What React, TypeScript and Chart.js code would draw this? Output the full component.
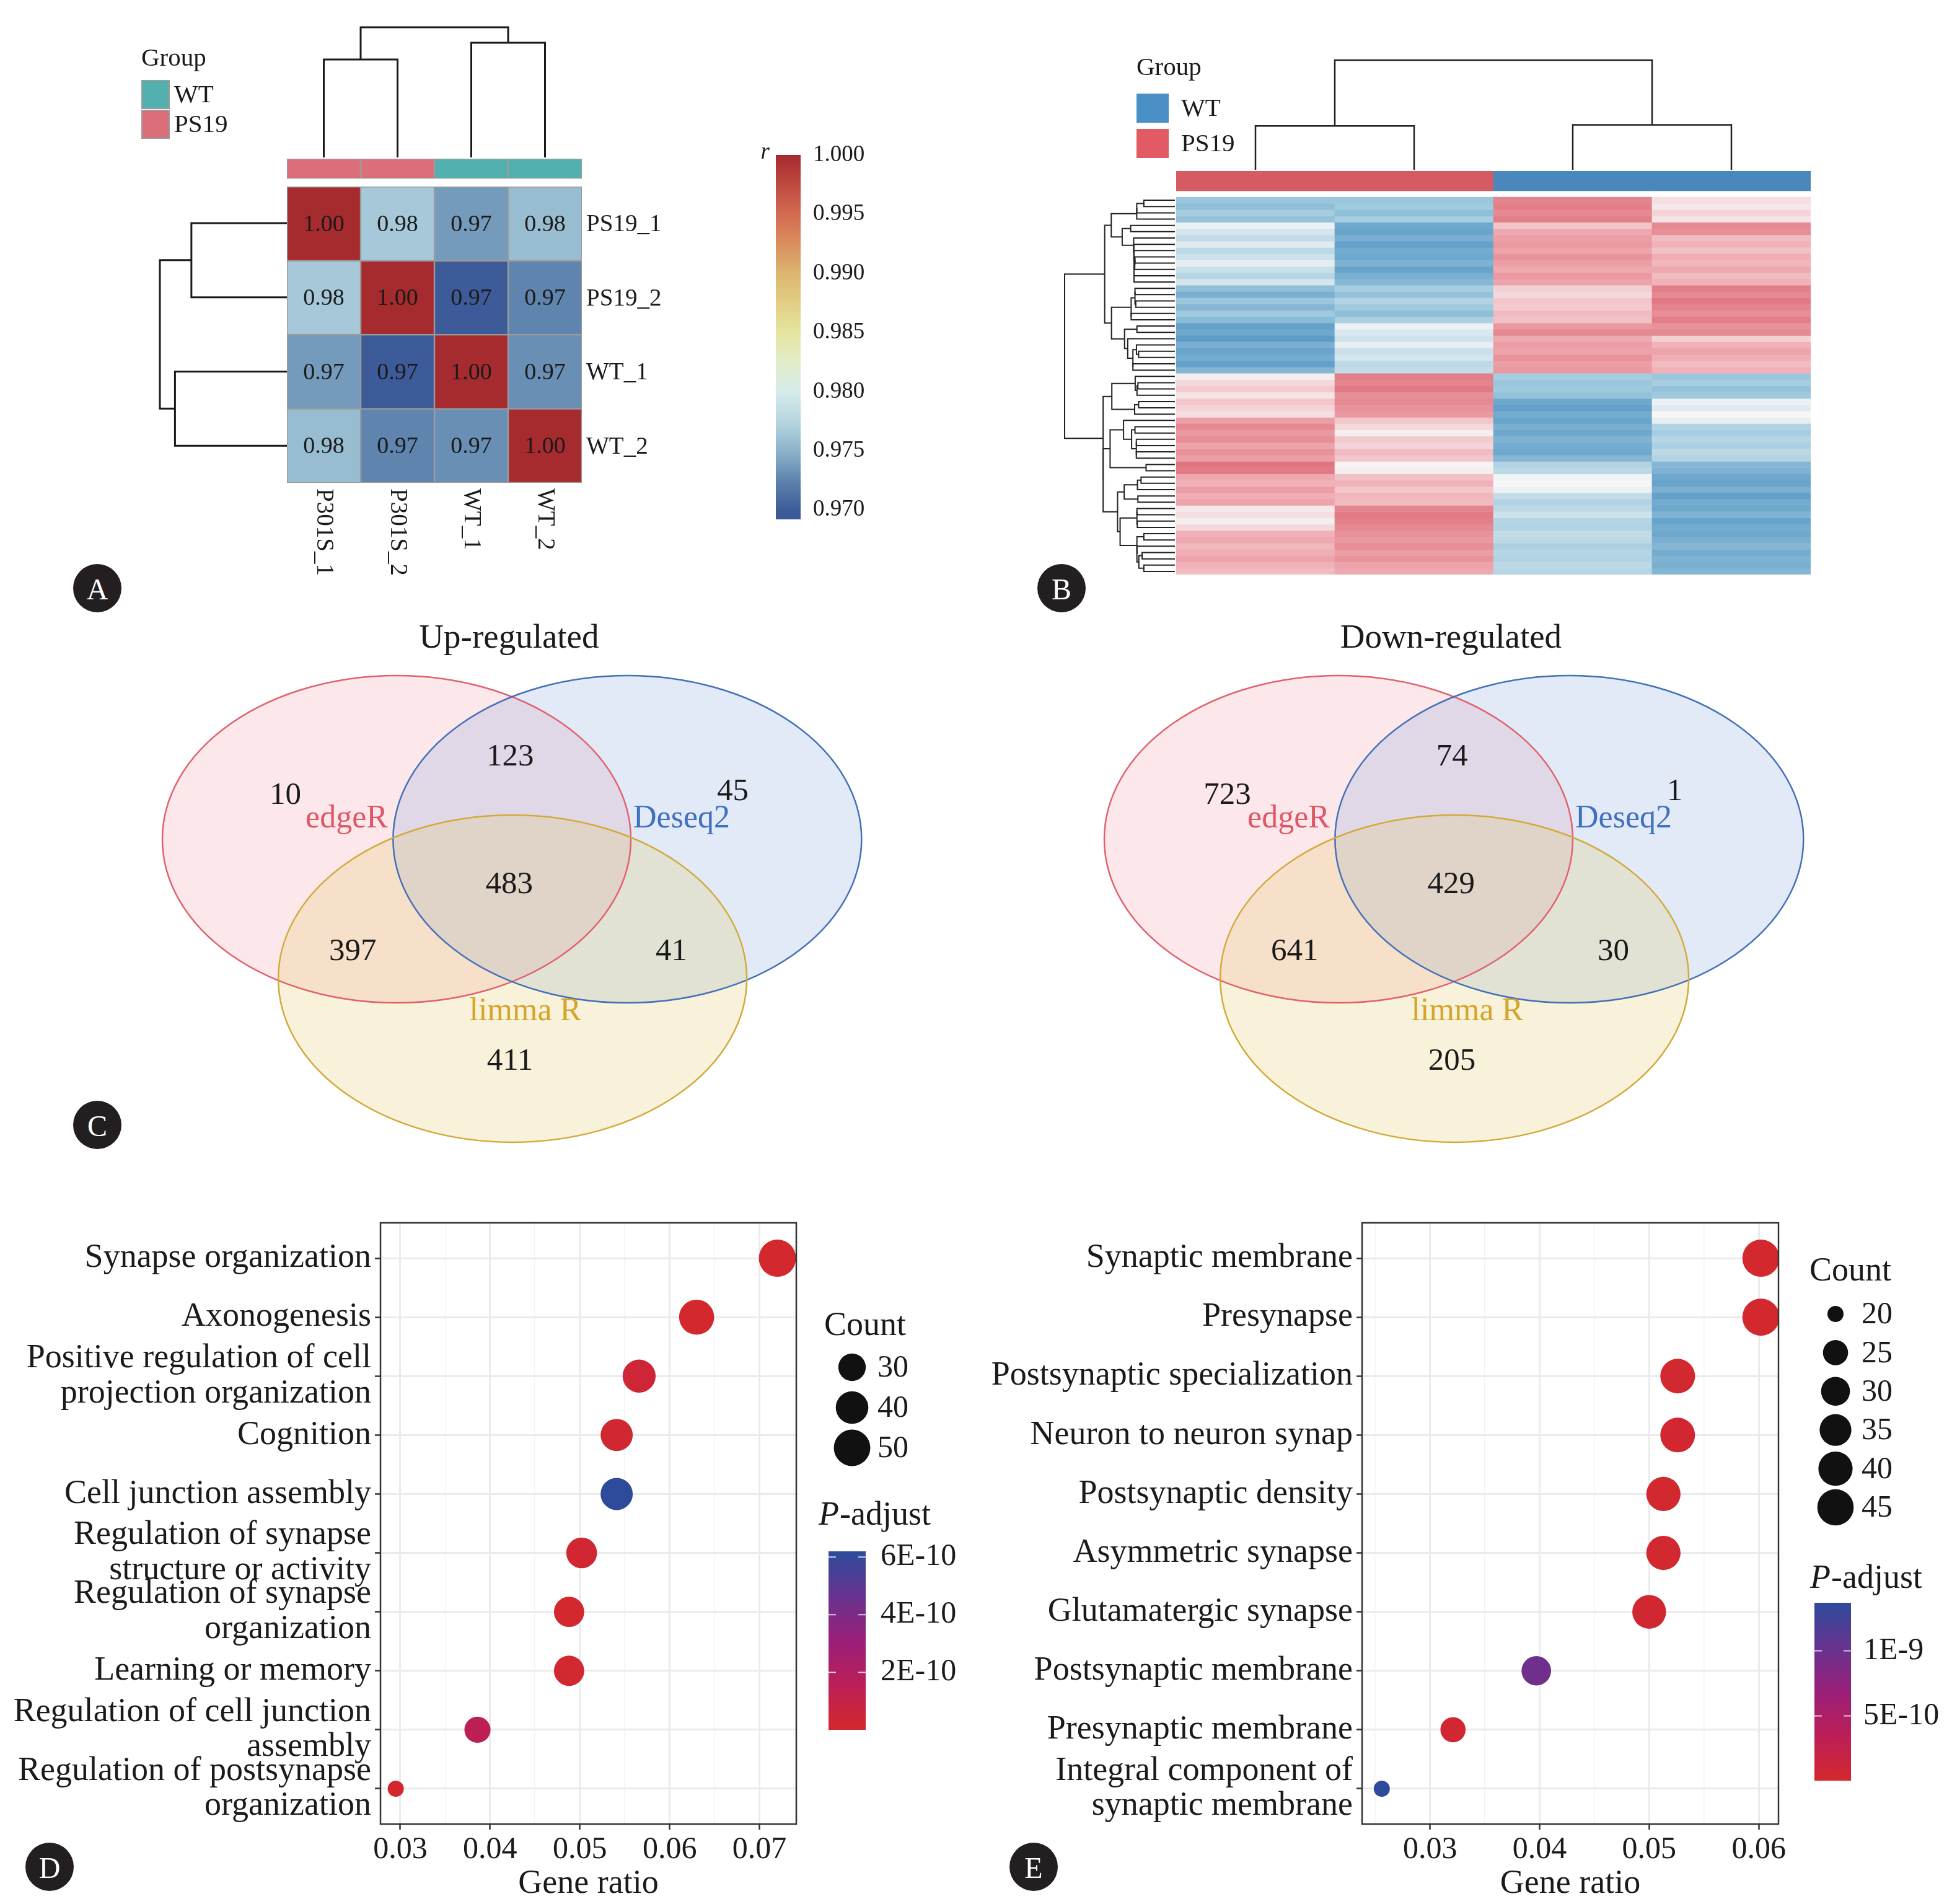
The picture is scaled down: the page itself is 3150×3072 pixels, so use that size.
import React, { useEffect, useRef } from 'react';
import { Chart, registerables } from 'chart.js';

Chart.register(...registerables);

const SERIF = "'Liberation Serif', 'Times New Roman', Times, serif";
Chart.defaults.font.family = SERIF;
Chart.defaults.color = '#1a1a1a';

/* ======================= DATA ======================= */
// Panel A: sample correlation matrix
const corrColNames = ['P301S_1', 'P301S_2', 'WT_1', 'WT_2'];
const corrRowNames = ['PS19_1', 'PS19_2', 'WT_1', 'WT_2'];
const corrGroups = ['PS19', 'PS19', 'WT', 'WT'];
const corrPS19_1 = [1.0, 0.9765, 0.9737, 0.9757];
const corrPS19_2 = [0.9765, 1.0, 0.9692, 0.9725];
const corrWT_1 = [0.9737, 0.9692, 1.0, 0.9731];
const corrWT_2 = [0.9757, 0.9725, 0.9731, 1.0];
const corrMergeLeft = [-1, -3, 1];
const corrMergeRight = [-2, -4, 2];
const corrMergeHeight = [0.752, 0.881, 1.0];
const corrLegendTicks = [0.97, 0.975, 0.98, 0.985, 0.99, 0.995, 1.0];

// Panel B: scaled expression of DEGs (rows top to bottom)
const exprGroups = ['PS19', 'PS19', 'WT', 'WT'];
const exprPS19_1 = [
  -0.8, -0.9, -0.7, -0.85,
  -0.1, -0.3, -0.45, -0.2, -0.5, -0.35, -0.15, -0.4, -0.55, -0.3,
  -0.9, -1.1, -0.8, -1.0, -0.75, -0.95,
  -1.3, -1.2, -1.35, -1.1, -1.25, -1.15, -1.3, -1.0,
  0.1, 0.3, 0.45, 0.2, 0.5, 0.35, 0.25,
  0.9, 1.1, 0.95, 1.05, 0.85, 1.0, 0.9,
  1.3, 1.25,
  0.8, 0.7, 0.9, 0.75, 0.85,
  0.15, 0.25, 0.1, 0.3,
  0.7, 0.8, 0.65, 0.75, 0.85, 0.7, 0.6,
];
const exprPS19_2 = [
  -0.8, -0.75, -0.9, -0.7,
  -1.2, -1.25, -1.1, -1.3, -1.15, -1.2, -1.05, -1.25, -1.1, -1.0,
  -0.7, -0.85, -0.6, -0.75, -0.9, -0.65,
  -0.1, -0.25, -0.35, -0.15, -0.4, -0.3, -0.5, -0.45,
  1.2, 1.15, 1.25, 1.05, 1.1, 1.0, 0.95,
  0.5, 0.3, 0.1, 0.45, 0.35, 0.6, 0.5,
  0.05, 0.1,
  0.55, 0.7, 0.5, 0.65, 0.6,
  1.15, 1.25, 1.2, 1.1,
  1.0, 0.95, 1.05, 0.9, 1.0, 0.85, 0.8,
];
const exprWT_1 = [
  1.15, 1.2, 1.1, 1.2,
  0.5, 0.8, 0.9, 0.95, 0.85, 1.0, 0.9, 0.8, 0.95, 0.85,
  0.4, 0.3, 0.5, 0.45, 0.6, 0.55,
  0.95, 1.1, 0.8, 0.9, 0.85, 1.0, 0.9, 0.95,
  -0.7, -0.8, -0.75, -0.85,
  -1.2, -1.3, -1.15, -1.25, -1.1, -1.2, -1.05, -1.15, -1.2, -1.0,
  -0.6, -0.5,
  -0.05, 0.0, -0.1,
  -0.45, -0.6, -0.5, -0.35, -0.55, -0.6, -0.45, -0.5, -0.65, -0.55, -0.6, -0.5, -0.55,
];
const exprWT_2 = [
  0.25, 0.15, 0.35, 0.2,
  1.1, 1.05, 0.6, 0.7, 0.55, 0.75, 0.65, 0.8, 0.6, 0.7,
  1.2, 1.1, 1.25, 1.15, 1.05, 1.2, 1.0, 1.1,
  0.4, 0.7, 0.85, 0.75, 0.6, 0.7,
  -0.8, -0.7, -0.85, -0.75,
  -0.1, -0.2, 0.0, -0.15,
  -0.6, -0.7, -0.55, -0.65, -0.5, -0.6,
  -1.0, -1.05,
  -1.2, -1.25, -1.1, -1.3, -1.15, -1.2, -1.05, -1.25, -1.15, -1.2, -1.1, -1.0, -1.15, -1.05, -1.1, -1.0,
];
const exprColMergeLeft = [-1, -3, 1];
const exprColMergeRight = [-2, -4, 2];
const exprColMergeHeight = [0.4, 0.41, 1.0];

// Panel C: Venn diagrams
const vennSetNames = ['edgeR', 'Deseq2', 'limma R'];
const vennSetCx = [0, 0.985, 0.495];
const vennSetCy = [0, 0, -0.852];
const vennSetRadius = 1;
const vennNameX = [-0.213, 1.217, 0.55];
const vennNameY = [0.125, 0.125, -1.053];
const vennRegionX = [-0.475, 0.485, 1.435, 0.481, -0.187, 1.173, 0.484];
const vennRegionY = [0.265, 0.5, 0.29, -0.277, -0.688, -0.688, -1.36];
const upCounts = [10, 123, 45, 483, 397, 41, 411];
const downCounts = [723, 74, 1, 429, 641, 30, 205];
const vennTitleX = 0.48;
const vennTitleY = 1.227;

// Panel D: GO BP enrichment
const bpTerms: any[] = [
  'Synapse organization',
  'Axonogenesis',
  ['Positive regulation of cell', 'projection organization'],
  'Cognition',
  'Cell junction assembly',
  ['Regulation of synapse', 'structure or activity'],
  ['Regulation of synapse', 'organization'],
  'Learning or memory',
  ['Regulation of cell junction', 'assembly'],
  ['Regulation of postsynapse', 'organization'],
];
const bpRatio = [0.072, 0.063, 0.0566, 0.0541, 0.0541, 0.0502, 0.0488, 0.0488, 0.0386, 0.0295];
const bpCount = [52, 46, 41, 39, 39, 36, 35, 35, 28, 21];
const bpPadj = [1.2e-13, 5e-12, 3.5e-11, 1.2e-11, 6.2e-10, 1.8e-11, 4e-12, 8e-12, 1.5e-10, 9e-12];
const bpRatioTicks = [0.03, 0.04, 0.05, 0.06, 0.07];
const bpCountLegend = [30, 40, 50];
const bpPadjTicks = [2e-10, 4e-10, 6e-10];

// Panel E: GO CC enrichment
const ccTerms: any[] = [
  'Synaptic membrane',
  'Presynapse',
  'Postsynaptic specialization',
  'Neuron to neuron synap',
  'Postsynaptic density',
  'Asymmetric synapse',
  'Glutamatergic synapse',
  'Postsynaptic membrane',
  'Presynaptic membrane',
  ['Integral component of', 'synaptic membrane'],
];
const ccRatio = [0.0602, 0.0602, 0.0526, 0.0526, 0.0513, 0.0513, 0.05, 0.0397, 0.0321, 0.0256];
const ccCount = [47, 47, 41, 41, 40, 40, 39, 31, 25, 20];
const ccPadj = [1e-12, 4e-12, 2e-11, 2.2e-11, 1.5e-11, 1.6e-11, 3e-11, 9.6e-10, 4.5e-11, 1.37e-9];
const ccRatioTicks = [0.03, 0.04, 0.05, 0.06];
const ccCountLegend = [20, 25, 30, 35, 40, 45];
const ccPadjTicks = [5e-10, 1e-9];

/* ======================= STYLE ======================= */
const groupColorsA: Record<string, string> = { WT: '#52B1AE', PS19: '#DA6F7A' };
const groupColorsB: Record<string, string> = { WT: '#4A88BC', PS19: '#D55A64' };
const legendColorsB: Record<string, string> = { WT: '#4B8FC7', PS19: '#E25A64' };
const corrColorStops: [number, string][] = [
  [0.97, '#3E5B99'], [0.9725, '#5F84AE'], [0.975, '#8DB3CB'], [0.9775, '#B6D6E0'], [0.98, '#D6EBEB'],
  [0.9825, '#E2EDC8'], [0.985, '#E5E59F'], [0.9875, '#E1CE83'], [0.99, '#DCB56F'], [0.9925, '#D98E5E'],
  [0.995, '#D36B50'], [0.9975, '#BE4940'], [1.0, '#A52B2E'],
];
const exprColorStops: [number, string][] = [
  [-1.5, '#4E91C2'], [-0.75, '#A0CADE'], [0, '#F7F7F7'], [0.75, '#F0ADB4'], [1.5, '#D9606C'],
];
const pStops: [number, string][] = [
  [0, '#D3282D'], [0.25, '#BC1F56'], [0.5, '#9A1F79'], [0.75, '#66338F'], [1, '#2E4B9B'],
];
const vennFill = ['rgba(240,128,140,0.18)', 'rgba(110,150,215,0.2)', 'rgba(225,190,70,0.2)'];
const vennStroke = ['#E0626E', '#4470B8', '#D2AA3A'];
const vennNameColor = ['#E05868', '#4070C0', '#D4A52A'];

/* ======================= HELPERS ======================= */
function hexRgb(h: string) {
  const n = parseInt(h.slice(1), 16);
  return [(n >> 16) & 255, (n >> 8) & 255, n & 255];
}
function interp(stops: [number, string][], v: number) {
  const fmt = (c: number[]) => `rgb(${Math.round(c[0])},${Math.round(c[1])},${Math.round(c[2])})`;
  if (v <= stops[0][0]) return fmt(hexRgb(stops[0][1]));
  for (let i = 1; i < stops.length; i++) {
    if (v <= stops[i][0]) {
      const t = (v - stops[i - 1][0]) / (stops[i][0] - stops[i - 1][0]);
      const a = hexRgb(stops[i - 1][1]);
      const b = hexRgb(stops[i][1]);
      return fmt([a[0] + (b[0] - a[0]) * t, a[1] + (b[1] - a[1]) * t, a[2] + (b[2] - a[2]) * t]);
    }
  }
  return fmt(hexRgb(stops[stops.length - 1][1]));
}
function baseOpts(padding: any) {
  return {
    responsive: false,
    animation: false,
    devicePixelRatio: 1,
    events: [],
    layout: { padding },
    plugins: { legend: { display: false }, tooltip: { enabled: false }, title: { display: false } },
  };
}
type Link = { p1: number; h1: number; p2: number; h2: number; h: number };
function hclustLinks(mL: number[], mR: number[], heights: number[], order: number[]): Link[] {
  const pos: number[] = [];
  const hh: number[] = [];
  const info = (m: number) => (m < 0 ? { p: order.indexOf(-m - 1), h: 0 } : { p: pos[m - 1], h: hh[m - 1] });
  const out: Link[] = [];
  heights.forEach((h, i) => {
    const a = info(mL[i]);
    const b = info(mR[i]);
    pos[i] = (a.p + b.p) / 2;
    hh[i] = h;
    out.push({ p1: a.p, h1: a.h, p2: b.p, h2: b.h, h });
  });
  return out;
}
function adjacentClusterLinks(rows: number[][]): Link[] {
  const dist = (a: number, b: number) =>
    Math.sqrt(rows[a].reduce((s, v, k) => s + (v - rows[b][k]) ** 2, 0));
  let cls = rows.map((_, i) => ({ members: [i], pos: i, h: 0 }));
  const links: Link[] = [];
  while (cls.length > 1) {
    let best = 0;
    let bestD = Infinity;
    for (let j = 0; j < cls.length - 1; j++) {
      let s = 0;
      for (const a of cls[j].members) for (const b of cls[j + 1].members) s += dist(a, b);
      const avg = s / (cls[j].members.length * cls[j + 1].members.length);
      if (avg < bestD) { bestD = avg; best = j; }
    }
    const L = cls[best];
    const R = cls[best + 1];
    const h = Math.max(bestD, L.h, R.h);
    links.push({ p1: L.pos, h1: L.h, p2: R.pos, h2: R.h, h });
    cls.splice(best, 2, { members: [...L.members, ...R.members], pos: (L.pos + R.pos) / 2, h });
  }
  const hmax = Math.max(...links.map((l) => l.h));
  const tf = (v: number) => Math.pow(v / hmax, 0.42);
  return links.map((l) => ({ p1: l.p1, h1: tf(l.h1), p2: l.p2, h2: tf(l.h2), h: tf(l.h) }));
}
function linkDatasets(links: Link[], vertical: boolean, color: string, width: number) {
  return links.map((l) => ({
    data: vertical
      ? [{ x: l.p1, y: l.h1 }, { x: l.p1, y: l.h }, { x: l.p2, y: l.h }, { x: l.p2, y: l.h2 }]
      : [{ x: l.h1, y: l.p1 }, { x: l.h, y: l.p1 }, { x: l.h, y: l.p2 }, { x: l.h2, y: l.p2 }],
    showLine: true,
    borderColor: color,
    borderWidth: width,
    pointRadius: 0,
    pointHoverRadius: 0,
    tension: 0,
    fill: false,
    clip: false,
  }));
}
function drawGroupLegend(ctx: any, ox: number, oy: number, o: any) {
  ctx.save();
  ctx.translate(-ox, -oy);
  ctx.fillStyle = '#1a1a1a';
  ctx.font = `${o.font}px ${SERIF}`;
  ctx.textBaseline = 'middle';
  ctx.textAlign = 'left';
  ctx.fillText('Group', o.x, o.titleY);
  o.items.forEach((it: any, i: number) => {
    const by = o.boxY[i];
    ctx.fillStyle = it.color;
    ctx.fillRect(o.x, by, o.bw, o.bh);
    if (o.border) {
      ctx.strokeStyle = o.border;
      ctx.lineWidth = 2;
      ctx.strokeRect(o.x + 1, by + 1, o.bw - 2, o.bh - 2);
    }
    ctx.fillStyle = '#1a1a1a';
    ctx.fillText(it.label, o.textX, by + o.bh / 2 + 2);
  });
  ctx.restore();
}
function fmtE(v: number) {
  const e = Math.floor(Math.log10(v) + 1e-9);
  const m = Math.round(v / Math.pow(10, e));
  return `${m}E${e}`;
}
function makeSize(counts: number[]) {
  const lo = Math.min(...counts);
  const hi = Math.max(...counts);
  return (c: number) => 13 + 17 * Math.sqrt(Math.max(0, (c - lo) / (hi - lo)));
}

/* ======================= PANEL A ======================= */
const corrRows = [corrPS19_1, corrPS19_2, corrWT_1, corrWT_2];
const corrMin = Math.min(...corrRows.flat());
const corrMax = Math.max(...corrRows.flat());

function buildCorrHeat(ox: number, oy: number) {
  const annotH = 0.27;
  const gapH = 0.11;
  const datasets: any[] = [
    { data: corrColNames.map(() => annotH), backgroundColor: corrGroups.map((g) => groupColorsA[g]), borderColor: '#9B9B9B', borderWidth: 1.5, borderSkipped: false },
    { data: corrColNames.map(() => gapH), backgroundColor: 'rgba(0,0,0,0)', borderWidth: 0 },
    ...corrRows.map((r) => ({
      data: r.map(() => 1),
      backgroundColor: r.map((v) => interp(corrColorStops, v)),
      borderColor: '#9B9B9B',
      borderWidth: 1.5,
      borderSkipped: false,
    })),
  ];
  const textPlugin = {
    id: 'corrText',
    afterDatasetsDraw(chart: any) {
      const { ctx, chartArea } = chart;
      ctx.save();
      ctx.fillStyle = '#1a1a1a';
      ctx.font = `38px ${SERIF}`;
      ctx.textBaseline = 'middle';
      corrRows.forEach((r, i) => {
        const meta = chart.getDatasetMeta(i + 2);
        ctx.textAlign = 'center';
        meta.data.forEach((el: any, j: number) => {
          const p = el.getCenterPoint();
          ctx.fillText(r[j].toFixed(2), p.x, p.y + 2);
        });
        const p = meta.data[3].getCenterPoint();
        ctx.textAlign = 'left';
        ctx.font = `39px ${SERIF}`;
        ctx.fillText(corrRowNames[i], chartArea.right + 7, p.y + 2);
        ctx.font = `38px ${SERIF}`;
      });
      const last = chart.getDatasetMeta(5);
      ctx.font = `39px ${SERIF}`;
      last.data.forEach((el: any, j: number) => {
        ctx.save();
        ctx.translate(el.x, chartArea.bottom + 9);
        ctx.rotate(Math.PI / 2);
        ctx.textAlign = 'left';
        ctx.textBaseline = 'middle';
        ctx.fillText(corrColNames[j], 0, 0);
        ctx.restore();
      });
      ctx.restore();
    },
  };
  return {
    type: 'bar',
    data: { labels: corrColNames, datasets },
    options: {
      ...baseOpts({ left: 23, top: 16, right: 181, bottom: 181 }),
      datasets: { bar: { barPercentage: 1, categoryPercentage: 1 } },
      scales: {
        x: { stacked: true, display: false },
        y: { stacked: true, display: false, reverse: true, min: 0, max: annotH + gapH + corrRows.length },
      },
    },
    plugins: [textPlugin],
  };
}

function buildCorrTopDendro(ox: number, oy: number) {
  const links = hclustLinks(corrMergeLeft, corrMergeRight, corrMergeHeight, [0, 1, 2, 3]);
  const legendPlugin = {
    id: 'groupLegendA',
    afterDraw(chart: any) {
      drawGroupLegend(chart.ctx, ox, oy, {
        font: 41, x: 228, titleY: 95, boxY: [129, 177], bw: 46, bh: 47, textX: 281, border: '#9B9B9B',
        items: [{ label: 'WT', color: groupColorsA.WT }, { label: 'PS19', color: groupColorsA.PS19 }],
      });
    },
  };
  return {
    type: 'scatter',
    data: { datasets: linkDatasets(links, true, '#1a1a1a', 3) },
    options: {
      ...baseOpts({ left: 263, top: 24, right: 41, bottom: 6 }),
      scales: {
        x: { type: 'linear', display: false, min: -0.5, max: 3.5 },
        y: { type: 'linear', display: false, min: 0, max: 1 },
      },
    },
    plugins: [legendPlugin],
  };
}

function buildCorrLeftDendro() {
  const links = hclustLinks(corrMergeLeft, corrMergeRight, corrMergeHeight, [0, 1, 2, 3]);
  return {
    type: 'scatter',
    data: { datasets: linkDatasets(links, false, '#1a1a1a', 3) },
    options: {
      ...baseOpts({ left: 18, top: 20, right: 17, bottom: 21 }),
      scales: {
        x: { type: 'linear', display: false, min: 0, max: 1, reverse: true },
        y: { type: 'linear', display: false, min: -0.5, max: 3.5, reverse: true },
      },
    },
  };
}

function buildCorrLegend(ox: number, oy: number) {
  const rPlugin = {
    id: 'rTitle',
    afterDraw(chart: any) {
      const { ctx, chartArea } = chart;
      ctx.save();
      ctx.fillStyle = '#1a1a1a';
      ctx.font = `italic 37px ${SERIF}`;
      ctx.textAlign = 'right';
      ctx.textBaseline = 'middle';
      ctx.fillText('r', chartArea.left - 10, chartArea.top - 4);
      ctx.restore();
    },
  };
  return {
    type: 'bar',
    data: {
      labels: ['r'],
      datasets: [{
        data: [[corrMin, corrMax]],
        borderWidth: 0,
        barPercentage: 1,
        categoryPercentage: 1,
        backgroundColor: (c: any) => {
          const chart = c.chart;
          const { ctx, chartArea, scales } = chart;
          if (!chartArea || !scales.y) return '#888';
          const y0 = scales.y.getPixelForValue(corrMin);
          const y1 = scales.y.getPixelForValue(corrMax);
          const g = ctx.createLinearGradient(0, y0, 0, y1);
          for (let k = 0; k <= 40; k++) {
            const v = corrMin + ((corrMax - corrMin) * k) / 40;
            g.addColorStop(k / 40, interp(corrColorStops, v));
          }
          return g;
        },
      }],
    },
    options: {
      ...baseOpts({ left: 52, top: 50, right: 0, bottom: 42 }),
      scales: {
        x: { display: false },
        y: {
          position: 'right',
          min: corrMin,
          max: corrMax,
          grid: { display: false, drawTicks: false },
          border: { display: false },
          afterBuildTicks: (s: any) => { s.ticks = corrLegendTicks.map((v) => ({ value: v })); },
          afterFit: (s: any) => { s.width = 108; s.paddingTop = 0; s.paddingBottom = 0; },
          ticks: { font: { size: 37 }, color: '#1a1a1a', padding: 20, autoSkip: false, callback: (v: any) => Number(v).toFixed(3) },
        },
      },
    },
    plugins: [rPlugin],
  };
}

/* ======================= PANEL B ======================= */
const exprCols = [exprPS19_1, exprPS19_2, exprWT_1, exprWT_2];
const exprRows = exprPS19_1.map((_, i) => exprCols.map((c) => c[i]));

function buildExprHeat() {
  const annotH = 3.15;
  const gapH = 1.0;
  const datasets: any[] = [
    { data: exprGroups.map(() => annotH), backgroundColor: exprGroups.map((g) => groupColorsB[g]), borderWidth: 0 },
    { data: exprGroups.map(() => gapH), backgroundColor: 'rgba(0,0,0,0)', borderWidth: 0 },
    ...exprRows.map((r) => ({ data: r.map(() => 1), backgroundColor: r.map((v) => interp(exprColorStops, v)), borderWidth: 0 })),
  ];
  return {
    type: 'bar',
    data: { labels: exprGroups.map((g, i) => `${g}_${i}`), datasets },
    options: {
      ...baseOpts({ left: 18, top: 16, right: 18, bottom: 13 }),
      datasets: { bar: { barPercentage: 1, categoryPercentage: 1 } },
      scales: {
        x: { stacked: true, display: false },
        y: { stacked: true, display: false, reverse: true, min: 0, max: annotH + gapH + exprRows.length },
      },
    },
  };
}

function buildExprRowDendro() {
  const links = adjacentClusterLinks(exprRows);
  return {
    type: 'scatter',
    data: { datasets: linkDatasets(links, false, '#222', 2) },
    options: {
      ...baseOpts({ left: 18, top: 18, right: 14, bottom: 13 }),
      scales: {
        x: { type: 'linear', display: false, min: 0, max: 1, reverse: true },
        y: { type: 'linear', display: false, min: -0.5, max: exprRows.length - 0.5, reverse: true },
      },
    },
  };
}

function buildExprTopDendro(ox: number, oy: number) {
  const links = hclustLinks(exprColMergeLeft, exprColMergeRight, exprColMergeHeight, [0, 1, 2, 3]);
  const legendPlugin = {
    id: 'groupLegendB',
    afterDraw(chart: any) {
      drawGroupLegend(chart.ctx, ox, oy, {
        font: 41, x: 1834, titleY: 110, boxY: [151, 208], bw: 52, bh: 47, textX: 1906, border: null,
        items: [{ label: 'WT', color: legendColorsB.WT }, { label: 'PS19', color: legendColorsB.PS19 }],
      });
    },
  };
  return {
    type: 'scatter',
    data: { datasets: linkDatasets(links, true, '#222', 2.5) },
    options: {
      ...baseOpts({ left: 98, top: 57, right: 28, bottom: 6 }),
      scales: {
        x: { type: 'linear', display: false, min: -0.5, max: 3.5 },
        y: { type: 'linear', display: false, min: 0, max: 1 },
      },
    },
    plugins: [legendPlugin],
  };
}

/* ======================= PANEL C ======================= */
function buildVenn(counts: number[], title: string) {
  return () => {
    const vennPlugin = {
      id: 'venn',
      beforeDatasetsDraw(chart: any) {
        const { ctx, scales } = chart;
        const { x, y } = scales;
        const meta = chart.getDatasetMeta(0);
        ctx.save();
        meta.data.forEach((el: any, i: number) => {
          const rx = Math.abs(x.getPixelForValue(vennSetCx[i] + vennSetRadius) - el.x);
          const ry = Math.abs(y.getPixelForValue(vennSetCy[i] + vennSetRadius) - el.y);
          ctx.beginPath();
          ctx.ellipse(el.x, el.y, rx, ry, 0, 0, Math.PI * 2);
          ctx.fillStyle = vennFill[i];
          ctx.fill();
        });
        meta.data.forEach((el: any, i: number) => {
          const rx = Math.abs(x.getPixelForValue(vennSetCx[i] + vennSetRadius) - el.x);
          const ry = Math.abs(y.getPixelForValue(vennSetCy[i] + vennSetRadius) - el.y);
          ctx.beginPath();
          ctx.ellipse(el.x, el.y, rx, ry, 0, 0, Math.PI * 2);
          ctx.strokeStyle = vennStroke[i];
          ctx.lineWidth = 2.5;
          ctx.stroke();
        });
        ctx.restore();
      },
      afterDatasetsDraw(chart: any) {
        const { ctx } = chart;
        ctx.save();
        ctx.textAlign = 'center';
        ctx.textBaseline = 'middle';
        ctx.font = `52px ${SERIF}`;
        chart.getDatasetMeta(1).data.forEach((el: any, i: number) => {
          ctx.fillStyle = vennNameColor[i];
          ctx.fillText(vennSetNames[i], el.x, el.y);
        });
        ctx.font = `51px ${SERIF}`;
        ctx.fillStyle = '#1a1a1a';
        chart.getDatasetMeta(2).data.forEach((el: any, i: number) => {
          ctx.fillText(String(counts[i]), el.x, el.y);
        });
        ctx.font = `55px ${SERIF}`;
        const t = chart.getDatasetMeta(3).data[0];
        ctx.fillText(title, t.x, t.y);
        ctx.restore();
      },
    };
    return {
      type: 'scatter',
      data: {
        datasets: [
          { data: vennSetCx.map((x, i) => ({ x, y: vennSetCy[i] })), pointRadius: 0 },
          { data: vennNameX.map((x, i) => ({ x, y: vennNameY[i] })), pointRadius: 0 },
          { data: vennRegionX.map((x, i) => ({ x, y: vennRegionY[i] })), pointRadius: 0 },
          { data: [{ x: vennTitleX, y: vennTitleY }], pointRadius: 0 },
        ],
      },
      options: {
        ...baseOpts({ left: 40, top: 20, right: 40, bottom: 20 }),
        scales: {
          x: { type: 'linear', display: false, min: -1.0582, max: 2.0635 },
          y: { type: 'linear', display: false, min: -1.9167, max: 1.3409 },
        },
      },
      plugins: [vennPlugin],
    };
  };
}

/* ======================= PANELS D / E ======================= */
function buildDot(o: any) {
  return (ox: number, oy: number) => {
    const size = makeSize(o.count);
    const pLo = Math.min(...o.padj);
    const pHi = Math.max(...o.padj);
    const colors = o.padj.map((p: number) => interp(pStops, (p - pLo) / (pHi - pLo)));
    const step = o.majors[1] - o.majors[0];
    const xt: number[] = [];
    for (let k = -2; k <= 2 * (o.majors.length - 1) + 2; k++) {
      const v = +(o.majors[0] + (k * step) / 2).toFixed(5);
      if (v >= o.xMin - 1e-9 && v <= o.xMax + 1e-9) xt.push(v);
    }
    const isMajor = (v: any) => v != null && o.majors.some((m: number) => Math.abs(m - v) < 1e-7);
    const borderPlugin = {
      id: 'panelBorder',
      afterDatasetsDraw(chart: any) {
        const { ctx, chartArea: a } = chart;
        ctx.save();
        ctx.strokeStyle = '#333';
        ctx.lineWidth = 2.5;
        ctx.strokeRect(a.left, a.top, a.right - a.left, a.bottom - a.top);
        ctx.restore();
      },
    };
    const L = o.legend;
    const legendPlugin = {
      id: 'countLegend',
      afterDraw(chart: any) {
        const ctx = chart.ctx;
        ctx.save();
        ctx.translate(-ox, -oy);
        ctx.textBaseline = 'middle';
        ctx.textAlign = 'left';
        ctx.fillStyle = '#1a1a1a';
        ctx.font = `54px ${SERIF}`;
        ctx.fillText('Count', L.titleX, L.titleY);
        ctx.font = `50px ${SERIF}`;
        o.countLegend.forEach((c: number, i: number) => {
          const cy = L.dotY0 + i * L.dotStep;
          ctx.beginPath();
          ctx.arc(L.dotX, cy, size(c), 0, Math.PI * 2);
          ctx.fillStyle = '#111';
          ctx.fill();
          ctx.fillStyle = '#1a1a1a';
          ctx.fillText(String(c), L.labelX, cy + 2);
        });
        ctx.font = `italic 54px ${SERIF}`;
        ctx.fillText('P', L.pX, L.pY);
        const w = ctx.measureText('P').width;
        ctx.font = `54px ${SERIF}`;
        ctx.fillText('-adjust', L.pX + w + 1, L.pY);
        ctx.restore();
      },
    };
    return {
      type: 'scatter',
      data: {
        datasets: [{
          data: o.terms.map((_: any, i: number) => ({ x: o.ratio[i], y: i + 1 })),
          pointRadius: o.count.map(size),
          pointHoverRadius: o.count.map(size),
          pointBackgroundColor: colors,
          pointBorderWidth: 0,
          pointBorderColor: 'rgba(0,0,0,0)',
        }],
      },
      options: {
        ...baseOpts(o.padding),
        scales: {
          x: {
            type: 'linear',
            min: o.xMin,
            max: o.xMax,
            afterBuildTicks: (s: any) => { s.ticks = xt.map((v) => ({ value: v })); },
            afterFit: (s: any) => { s.height = 129; s.paddingLeft = 0; s.paddingRight = 0; },
            grid: {
              color: (c: any) => (isMajor(c.tick?.value) ? '#EBEBEB' : '#F4F4F4'),
              lineWidth: (c: any) => (isMajor(c.tick?.value) ? 3 : 1.6),
              tickColor: (c: any) => (isMajor(c.tick?.value) ? '#333' : 'rgba(0,0,0,0)'),
              tickLength: 9,
              tickWidth: 2.5,
              drawTicks: true,
            },
            border: { display: false },
            ticks: {
              autoSkip: false, maxRotation: 0, minRotation: 0, padding: 3,
              font: { size: 50 }, color: '#1a1a1a',
              callback: (v: any) => (isMajor(v) ? Number(v).toFixed(2) : ''),
            },
            title: { display: true, text: 'Gene ratio', font: { size: 54 }, color: '#1a1a1a', padding: 0 },
          },
          y: {
            type: 'linear',
            min: 0.4,
            max: o.terms.length + 0.6,
            reverse: true,
            afterBuildTicks: (s: any) => { s.ticks = o.terms.map((_: any, i: number) => ({ value: i + 1 })); },
            afterFit: (s: any) => { s.width = o.yWidth; s.paddingTop = 0; s.paddingBottom = 0; },
            grid: { color: '#EBEBEB', lineWidth: 3, tickColor: '#333', tickLength: 9, tickWidth: 2.5 },
            border: { display: false },
            ticks: {
              autoSkip: false, padding: 6,
              font: { size: 54, lineHeight: 1.05 }, color: '#1a1a1a',
              callback: (v: any) => o.terms[Math.round(v) - 1],
            },
          },
        },
      },
      plugins: [borderPlugin, legendPlugin],
    };
  };
}

function buildColorbar(o: any) {
  return () => {
    const lo = Math.min(...o.padj);
    const hi = Math.max(...o.padj);
    const whiteTicks = {
      id: 'cbTicks',
      afterDatasetsDraw(chart: any) {
        const { ctx, chartArea: a, scales } = chart;
        ctx.save();
        ctx.strokeStyle = 'rgba(255,255,255,0.75)';
        ctx.lineWidth = 2;
        o.ticks.forEach((v: number) => {
          const y = scales.y.getPixelForValue(v);
          ctx.beginPath();
          ctx.moveTo(a.left, y); ctx.lineTo(a.left + 12, y);
          ctx.moveTo(a.right - 12, y); ctx.lineTo(a.right, y);
          ctx.stroke();
        });
        ctx.restore();
      },
    };
    return {
      type: 'bar',
      data: {
        labels: ['P'],
        datasets: [{
          data: [[lo, hi]],
          borderWidth: 0,
          barPercentage: 1,
          categoryPercentage: 1,
          backgroundColor: (c: any) => {
            const { ctx, chartArea, scales } = c.chart;
            if (!chartArea || !scales.y) return '#888';
            const g = ctx.createLinearGradient(0, scales.y.getPixelForValue(lo), 0, scales.y.getPixelForValue(hi));
            pStops.forEach(([t, col]) => g.addColorStop(t, col));
            return g;
          },
        }],
      },
      options: {
        ...baseOpts(o.padding),
        scales: {
          x: { display: false },
          y: {
            position: 'right',
            min: lo,
            max: hi,
            grid: { display: false, drawTicks: false },
            border: { display: false },
            afterBuildTicks: (s: any) => { s.ticks = o.ticks.map((v: number) => ({ value: v })); },
            afterFit: (s: any) => { s.width = o.axisWidth; s.paddingTop = 0; s.paddingBottom = 0; },
            ticks: { font: { size: 50 }, color: '#1a1a1a', padding: o.tickPad, autoSkip: false, callback: (v: any) => fmtE(Number(v)) },
          },
        },
      },
      plugins: [whiteTicks],
    };
  };
}

/* ======================= COMPONENTS ======================= */
function ChartBox({ x, y, w, h, build }: { x: number; y: number; w: number; h: number; build: (ox: number, oy: number) => any }) {
  const ref = useRef<HTMLCanvasElement>(null);
  useEffect(() => {
    const chart = new Chart(ref.current as HTMLCanvasElement, build(x, y));
    return () => chart.destroy();
  }, []);
  return <canvas ref={ref} width={w} height={h} style={{ position: 'absolute', left: x, top: y, width: w, height: h }} />;
}

const panelLetters = [
  { l: 'A', x: 157, y: 949 },
  { l: 'B', x: 1713, y: 949 },
  { l: 'C', x: 157, y: 1815 },
  { l: 'D', x: 80, y: 3012 },
  { l: 'E', x: 1668, y: 3012 },
];

const bpBuild = buildDot({
  terms: bpTerms, ratio: bpRatio, count: bpCount, padj: bpPadj, majors: bpRatioTicks,
  xMin: 0.0278, xMax: 0.0741, yWidth: 614, padding: { left: 0, top: 33, right: 275, bottom: 0 },
  countLegend: bpCountLegend,
  legend: { titleX: 1330, titleY: 2140, dotX: 1375, dotY0: 2206, dotStep: 65, labelX: 1416, pX: 1321, pY: 2446 },
});
const ccBuild = buildDot({
  terms: ccTerms, ratio: ccRatio, count: ccCount, padj: ccPadj, majors: ccRatioTicks,
  xMin: 0.0238, xMax: 0.0618, yWidth: 638, padding: { left: 0, top: 33, right: 280, bottom: 0 },
  countLegend: ccCountLegend,
  legend: { titleX: 2920, titleY: 2052, dotX: 2962, dotY0: 2120, dotStep: 62.4, labelX: 3004, pX: 2921, pY: 2548 },
});
const bpColorbar = buildColorbar({ padj: bpPadj, ticks: bpPadjTicks, padding: { left: 37, top: 33, right: 0, bottom: 39 }, axisWidth: 163, tickPad: 24 });
const ccColorbar = buildColorbar({ padj: ccPadj, ticks: ccPadjTicks, padding: { left: 28, top: 26, right: 0, bottom: 37 }, axisWidth: 163, tickPad: 20 });

export default function App() {
  useEffect(() => {
    document.body.style.margin = '0';
  }, []);
  return (
    <div style={{ position: 'relative', width: 3150, height: 3072, background: '#ffffff', overflow: 'hidden' }}>
      {/* Panel A */}
      <ChartBox x={200} y={20} w={780} h={240} build={buildCorrTopDendro} />
      <ChartBox x={240} y={280} w={240} h={520} build={buildCorrLeftDendro} />
      <ChartBox x={440} y={240} w={680} h={720} build={buildCorrHeat} />
      <ChartBox x={1200} y={200} w={200} h={680} build={buildCorrLegend} />
      {/* Panel B */}
      <ChartBox x={1800} y={40} w={1150} h={240} build={buildExprTopDendro} />
      <ChartBox x={1700} y={300} w={210} h={640} build={buildExprRowDendro} />
      <ChartBox x={1880} y={260} w={1060} h={680} build={buildExprHeat} />
      {/* Panel C */}
      <ChartBox x={200} y={980} w={1260} h={900} build={buildVenn(upCounts, 'Up-regulated')} />
      <ChartBox x={1720} y={980} w={1260} h={900} build={buildVenn(downCounts, 'Down-regulated')} />
      {/* Panel D */}
      <ChartBox x={0} y={1940} w={1560} h={1132} build={bpBuild} />
      <ChartBox x={1300} y={2470} w={260} h={360} build={bpColorbar} />
      {/* Panel E */}
      <ChartBox x={1560} y={1940} w={1590} h={1132} build={ccBuild} />
      <ChartBox x={2900} y={2560} w={250} h={350} build={ccColorbar} />
      {panelLetters.map((p) => (
        <div
          key={p.l}
          style={{
            position: 'absolute', left: p.x - 39, top: p.y - 39, width: 78, height: 78, borderRadius: '50%',
            background: '#231F20', color: '#ffffff', font: `48px ${SERIF}`, display: 'flex',
            alignItems: 'center', justifyContent: 'center', lineHeight: 1, paddingTop: 3, boxSizing: 'border-box',
          }}
        >
          {p.l}
        </div>
      ))}
    </div>
  );
}
